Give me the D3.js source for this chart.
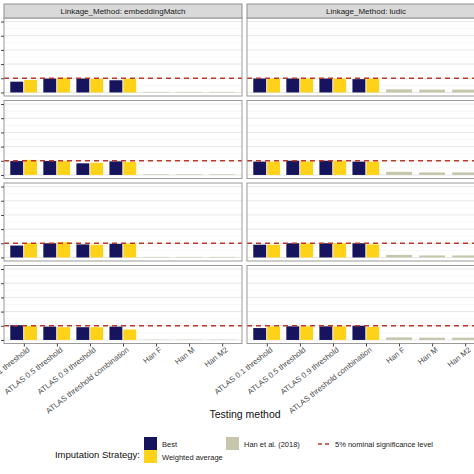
<!DOCTYPE html>
<html>
<head>
<meta charset="utf-8">
<script src="https://cdn.jsdelivr.net/npm/d3@7"></script>
<style>
  body { margin: 0; background: #fff; }
  svg { display: block; font-family: "Liberation Sans", Arial, sans-serif; }
</style>
</head>
<body>
<div id="chart"></div>
<script>
// categories on the x axis
var methods = ["ATLAS 0.1 threshold", "ATLAS 0.5 threshold", "ATLAS 0.9 threshold",
               "ATLAS threshold combination", "Han F", "Han M", "Han M2"];
var linkage = ["embeddingMatch", "ludic"];
var yTicks = [0, 0.05, 0.10, 0.15, 0.20, 0.25];
var alpha = 0.05;

// type I error, one array per row, ATLAS methods only
var bestEmbed = [[0.038, 0.049, 0.049, 0.043], [0.049, 0.049, 0.041, 0.048],
                 [0.042, 0.050, 0.046, 0.048], [0.052, 0.047, 0.045, 0.047]];
var wavgEmbed = [[0.044, 0.052, 0.048, 0.048], [0.053, 0.049, 0.043, 0.046],
                 [0.051, 0.054, 0.045, 0.049], [0.049, 0.045, 0.045, 0.037]];
var hanEmbed  = [[0.002, 0.002, 0.002], [0.002, 0.002, 0.002],
                 [0.002, 0.002, 0.002], [0.001, 0.001, 0.001]];
var bestLudic = [[0.049, 0.049, 0.049, 0.047], [0.047, 0.050, 0.050, 0.047],
                 [0.045, 0.050, 0.050, 0.050], [0.042, 0.048, 0.048, 0.050]];
var wavgLudic = [[0.049, 0.049, 0.049, 0.049], [0.047, 0.048, 0.050, 0.047],
                 [0.045, 0.049, 0.050, 0.046], [0.048, 0.048, 0.048, 0.046]];
var hanLudic  = [[0.011, 0.010, 0.010], [0.011, 0.009, 0.009],
                 [0.009, 0.007, 0.007], [0.009, 0.008, 0.008]];

var colBest = "#16145c", colWavg = "#ffd21a", colHan = "#c5c6aa", colLine = "#b83a2e";

var W = 474, H = 474;
var svg = d3.select("#chart").append("svg").attr("width", W).attr("height", H);

var panelX = [[4, 242], [247, 485]];
var stripTop = 4, firstTop = 18, rowStep = 82.5, panelH = 78;

function panel(col, row, best, wavg, han) {
    var x0 = panelX[col][0], x1 = panelX[col][1];
    var top = firstTop + row * rowStep;
    var x = d3.scalePoint().domain(methods).range([x0, x1]).padding(0.6);
    var step = x.step();
    var y = d3.scaleLinear().domain([-0.0125, 0.2625]).range([top + panelH, top]);
    var g = svg.append("g");

    g.append("rect").attr("x", x0).attr("y", top).attr("width", x1 - x0).attr("height", panelH)
        .attr("fill", "#fff");

    // minor + major grid
    d3.range(0, 0.2626, 0.025).forEach(function (v, i) {
        g.append("line").attr("x1", x0).attr("x2", x1).attr("y1", y(v)).attr("y2", y(v))
            .attr("stroke", i % 2 ? "#f2f2f2" : "#e4e4e4")
            .attr("stroke-width", i % 2 ? 0.6 : 0.9);
    });

    var atlas = methods.slice(0, 4);
    atlas.forEach(function (m, i) {
        var c = x(m);
        g.append("rect").attr("x", c - 0.41 * step).attr("width", 0.39 * step)
            .attr("y", y(best[i])).attr("height", y(0) - y(best[i])).attr("fill", colBest);
        g.append("rect").attr("x", c + 0.01 * step).attr("width", 0.39 * step)
            .attr("y", y(wavg[i])).attr("height", y(0) - y(wavg[i])).attr("fill", colWavg);
    });
    methods.slice(4).forEach(function (m, i) {
        var c = x(m);
        g.append("rect").attr("x", c - 0.39 * step).attr("width", 0.78 * step)
            .attr("y", y(han[i])).attr("height", y(0) - y(han[i])).attr("fill", colHan);
    });

    g.append("line").attr("x1", x0).attr("x2", x1).attr("y1", y(alpha)).attr("y2", y(alpha))
        .attr("stroke", colLine).attr("stroke-width", 1.3).attr("stroke-dasharray", "5,4");

    g.append("rect").attr("x", x0).attr("y", top).attr("width", x1 - x0).attr("height", panelH)
        .attr("fill", "none").attr("stroke", "#9a9a9a").attr("stroke-width", 1);

    // y tick marks only: the labels sit outside the cropped picture
    if (col === 0) {
        var ax = g.append("g").attr("transform", "translate(" + x0 + ",0)")
            .call(d3.axisLeft(y).tickValues(yTicks).tickSize(3).tickFormat(""));
        ax.select(".domain").remove();
        ax.selectAll("line").attr("stroke", "#444");
    }

    if (row === 0) {
        g.append("rect").attr("x", x0).attr("y", stripTop).attr("width", x1 - x0)
            .attr("height", firstTop - stripTop).attr("fill", "#d9d9d9")
            .attr("stroke", "#8f8f8f").attr("stroke-width", 1);
        g.append("text").attr("x", (x0 + x1) / 2).attr("y", (stripTop + firstTop) / 2 + 3)
            .attr("text-anchor", "middle").attr("fill", "#1a1a1a").style("font-size", "8px")
            .text("Linkage_Method: " + linkage[col]);
    }

    if (row === 3) {
        var bx = g.append("g").attr("transform", "translate(0," + (top + panelH) + ")")
            .call(d3.axisBottom(x).tickSize(3).tickFormat(""));
        bx.select(".domain").remove();
        bx.selectAll("line").attr("stroke", "#444");
        methods.forEach(function (m) {
            g.append("text")
                .attr("transform", "translate(" + (x(m) + 3) + "," + (top + panelH + 3) + ") rotate(-38)")
                .attr("text-anchor", "end").attr("dy", "0.7em")
                .attr("fill", "#4d4d4d").style("font-size", "7.8px").text(m);
        });
    }
}

for (var r = 0; r < 4; r++) {
    panel(0, r, bestEmbed[r], wavgEmbed[r], hanEmbed[r]);
    panel(1, r, bestLudic[r], wavgLudic[r], hanLudic[r]);
}

svg.append("text").attr("x", 245).attr("y", 418).attr("text-anchor", "middle")
    .attr("fill", "#111").style("font-size", "10.5px").text("Testing method");

// legend
var lg = svg.append("g");
lg.append("text").attr("x", 140).attr("y", 458).attr("text-anchor", "end")
    .attr("fill", "#111").style("font-size", "9.5px").text("Imputation Strategy:");
lg.append("rect").attr("x", 144).attr("y", 437).attr("width", 13).attr("height", 13).attr("fill", colBest);
lg.append("rect").attr("x", 144).attr("y", 450).attr("width", 13).attr("height", 13).attr("fill", colWavg);
lg.append("text").attr("x", 162).attr("y", 447).attr("fill", "#222").style("font-size", "7.5px").text("Best");
lg.append("text").attr("x", 162).attr("y", 460).attr("fill", "#222").style("font-size", "7.5px").text("Weighted average");
lg.append("rect").attr("x", 226).attr("y", 437).attr("width", 13).attr("height", 13).attr("fill", colHan);
lg.append("text").attr("x", 244).attr("y", 447).attr("fill", "#222").style("font-size", "7.5px").text("Han et al. (2018)");
lg.append("line").attr("x1", 318).attr("x2", 331).attr("y1", 444).attr("y2", 444)
    .attr("stroke", colLine).attr("stroke-width", 1.3).attr("stroke-dasharray", "4,3");
lg.append("text").attr("x", 335).attr("y", 447).attr("fill", "#222").style("font-size", "7.5px")
    .text("5% nominal significance level");
</script>
</body>
</html>
